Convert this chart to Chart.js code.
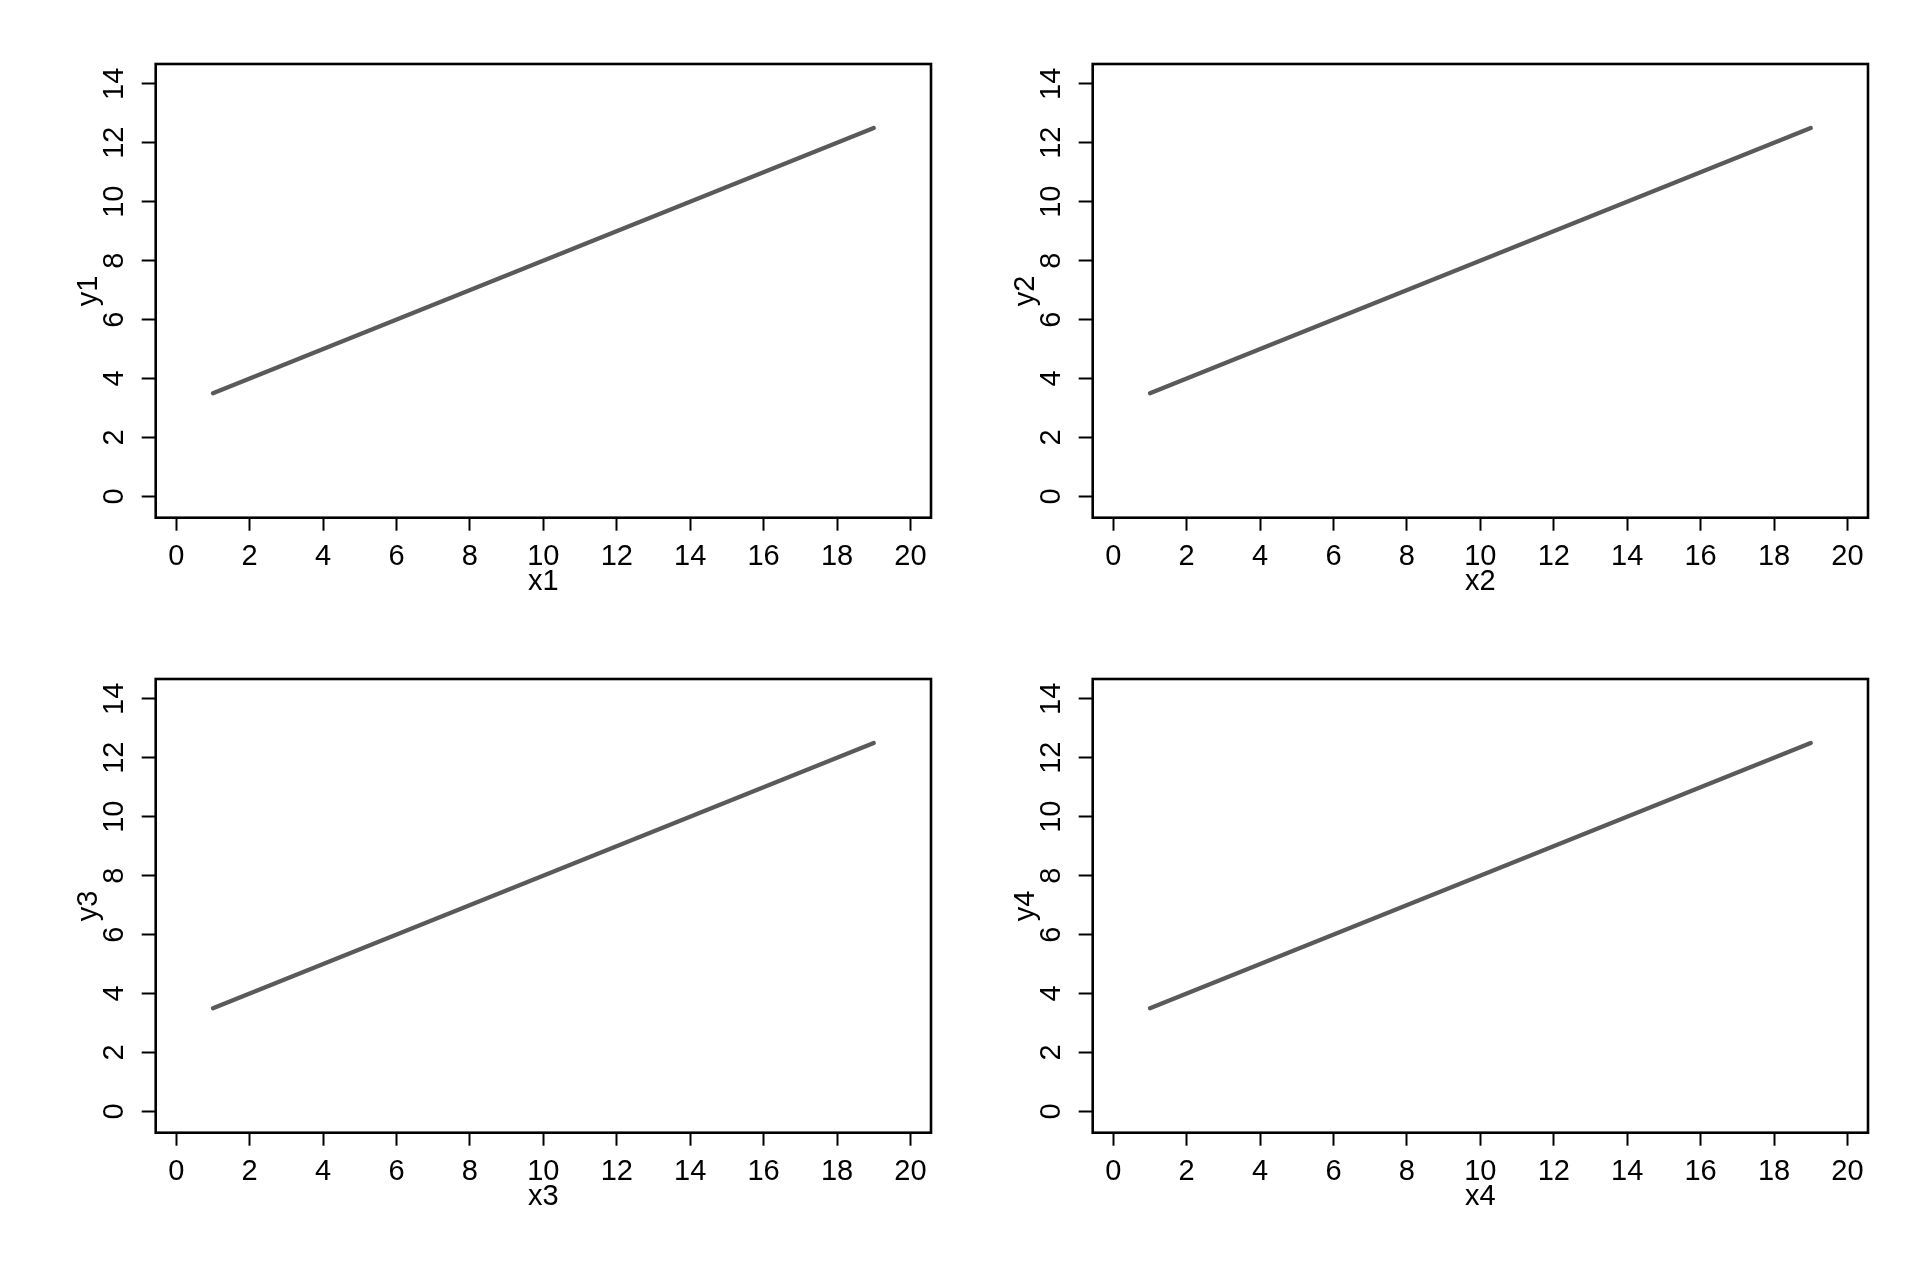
<!DOCTYPE html>
<html>
<head>
<meta charset="utf-8">
<script src="https://cdn.jsdelivr.net/npm/chart.js@4.4.1/dist/chart.umd.min.js"></script>
<style>
  html, body { margin: 0; padding: 0; background: #fff; }
  body { width: 1932px; height: 1288px; position: relative; overflow: hidden; }
  canvas { position: absolute; }
</style>
</head>
<body>
<canvas id="c1" width="966" height="644" style="left:0px;top:0px"></canvas>
<canvas id="c2" width="966" height="644" style="left:936.6px;top:0px"></canvas>
<canvas id="c3" width="966" height="644" style="left:0px;top:615px"></canvas>
<canvas id="c4" width="966" height="644" style="left:936.6px;top:615px"></canvas>
<script>
// ----------------------
// Data
// ----------------------
const panelIds = ["c1", "c2", "c3", "c4"];
const xTitles = ["x1", "x2", "x3", "x4"];
const yTitles = ["y1", "y2", "y3", "y4"];
const lineX = [1, 19];
const lineY1 = [3.5, 12.5];
const lineY2 = [3.5, 12.5];
const lineY3 = [3.5, 12.5];
const lineY4 = [3.5, 12.5];
const lineYs = [lineY1, lineY2, lineY3, lineY4];
const xTicks = [0, 2, 4, 6, 8, 10, 12, 14, 16, 18, 20];
const yTicks = [0, 2, 4, 6, 8, 10, 12, 14];

Chart.defaults.font.family = "'Liberation Sans', Arial, sans-serif";
Chart.defaults.font.size = 29;
Chart.defaults.color = "#000";

// ----------------------
// Box around the plot region (R style bty="o")
// ----------------------
const boxPlugin = {
  id: "box",
  afterDraw(chart) {
    const { ctx, chartArea: a } = chart;
    ctx.save();
    ctx.strokeStyle = "#000";
    ctx.lineWidth = 2.6;
    ctx.strokeRect(a.left, a.top, a.right - a.left, a.bottom - a.top);
    ctx.restore();
  }
};

function makePanel(i) {
  const ctx = document.getElementById(panelIds[i]).getContext("2d");
  const points = lineX.map((x, k) => ({ x, y: lineYs[i][k] }));

  new Chart(ctx, {
    type: "scatter",
    data: {
      datasets: [{
        data: points,
        showLine: true,
        borderColor: "#5a5a5a",
        borderWidth: 4.3,
        pointRadius: 0,
        borderCapStyle: "round"
      }]
    },
    options: {
      responsive: false,
      animation: false,
      devicePixelRatio: 1,
      layout: { padding: { top: 64, right: 35, bottom: 0, left: 0 } },
      plugins: { legend: { display: false }, tooltip: { enabled: false } },
      scales: {
        x: {
          type: "linear",
          min: -0.56,
          max: 20.56,
          afterBuildTicks: s => { s.ticks = xTicks.map(v => ({ value: v })); },
          afterFit: s => { s.height = 126.3; },
          border: { display: false },
          grid: { drawOnChartArea: false, drawTicks: true, tickLength: 13, tickColor: "#000", tickWidth: 2 },
          ticks: { padding: 8.6, maxRotation: 0, minRotation: 0, autoSkip: false },
          title: { display: true, text: xTitles[i], padding: { top: 0, bottom: 44.6 } }
        },
        y: {
          type: "linear",
          min: -0.72,
          max: 14.67,
          afterBuildTicks: s => { s.ticks = yTicks.map(v => ({ value: v })); },
          afterFit: s => { s.width = 155.7; },
          border: { display: false },
          grid: { drawOnChartArea: false, drawTicks: true, tickLength: 14, tickColor: "#000", tickWidth: 2 },
          ticks: { padding: 10.6, minRotation: 90, maxRotation: 90, crossAlign: "center", autoSkip: false },
          title: { display: true, text: yTitles[i], padding: { top: 71.1, bottom: 0 } }
        }
      }
    },
    plugins: [boxPlugin]
  });
}

panelIds.forEach((_, i) => makePanel(i));
</script>
</body>
</html>
